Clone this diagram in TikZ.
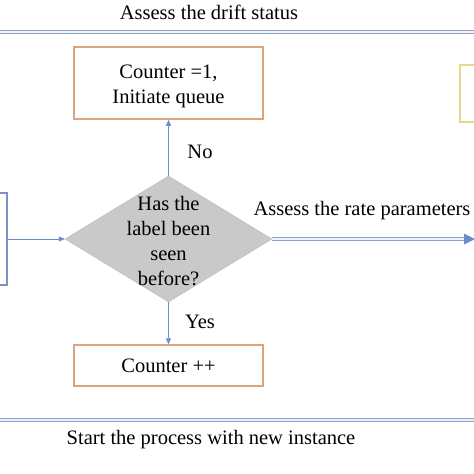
\documentclass[tikz,border=0pt]{standalone}
\usepackage{fontspec}
\setmainfont{Liberation Serif}
\usetikzlibrary{shapes.geometric,arrows.meta}
\definecolor{dblblue}{HTML}{8EA2CC}
\definecolor{arrblue}{HTML}{6A8CCB}
\definecolor{boxorange}{HTML}{D9A57F}
\definecolor{boxyellow}{HTML}{EBD58A}
\definecolor{leftblue}{HTML}{7F90C8}
\definecolor{diagray}{HTML}{C9C9C9}
\begin{document}
\begin{tikzpicture}[x=1pt,y=-1pt,
  txt/.style={font=\fontsize{20.5}{25}\selectfont, inner sep=0pt},
  obox/.style={draw=boxorange, line width=1.5pt, fill=white},
  dbl/.style={draw=dblblue, double=white!85!dblblue, double distance=1.4pt, line width=1.5pt},
  arr/.style={draw=arrblue, line width=0.8pt, -{Triangle[length=6pt,width=5pt]}}]
\useasboundingbox (0,0) rectangle (474,474);
\fill[white] (0,0) rectangle (474,474);
% title and separators
\node[txt] (title) at (209,12) {Assess the drift status};
\coordinate (tl) at (-2,32);
\coordinate (tr) at (476,32);
\draw[dbl] (tl) -- (tr);
\coordinate (bl) at (-2,420);
\coordinate (br) at (476,420);
\draw[dbl] (bl) -- (br);
\node[txt] (start) at (211,440) {Start the process with new instance};
% boxes
\node[obox, minimum width=189pt, minimum height=72pt, inner sep=0pt] (top) at (168.5,83) {};
\node[txt, align=center] (toptxt) at (168.5,86) {Counter =1,\\Initiate queue};
\node[obox, minimum width=189pt, minimum height=41pt, inner sep=0pt] (bot) at (168.5,365.5) {};
\node[txt] (bottxt) at (168.5,366) {Counter ++};
% left partial box
\node[draw=leftblue, line width=1.2pt, minimum width=40pt, minimum height=92pt, inner sep=0pt] (left) at (-13,239) {};
% right partial box
\node[draw=boxyellow, line width=1.2pt, minimum width=40pt, minimum height=57pt, inner sep=0pt] (right) at (480,93.5) {};
% diamond
\node[diamond, fill=diagray, draw=diagray!90!black, line width=0.3pt, minimum width=207pt, minimum height=126pt, inner sep=0pt] (dia) at (168.5,239) {};
\node[txt, align=center] (diatxt) at (168.5,241) {Has the\\label been\\seen\\before?};
% connectors
\draw[arr] (dia.north) -- (top.south);
\draw[arr] (dia.south) -- (bot.north);
\draw[arr] (left.east) -- (dia.west);
\node[txt] (no) at (200,152) {No};
\node[txt] (yes) at (200,322) {Yes};
\node[txt] (rate) at (362,211) {Assess the rate parameters};
\coordinate (ra) at (465,239);
\coordinate (rtip) at (475,239);
\draw[dbl] (dia.east) -- (ra);
\fill[arrblue] (rtip) -- ++(-11,-5.5) -- ++(0,11) -- cycle;
\end{tikzpicture}
\end{document}
